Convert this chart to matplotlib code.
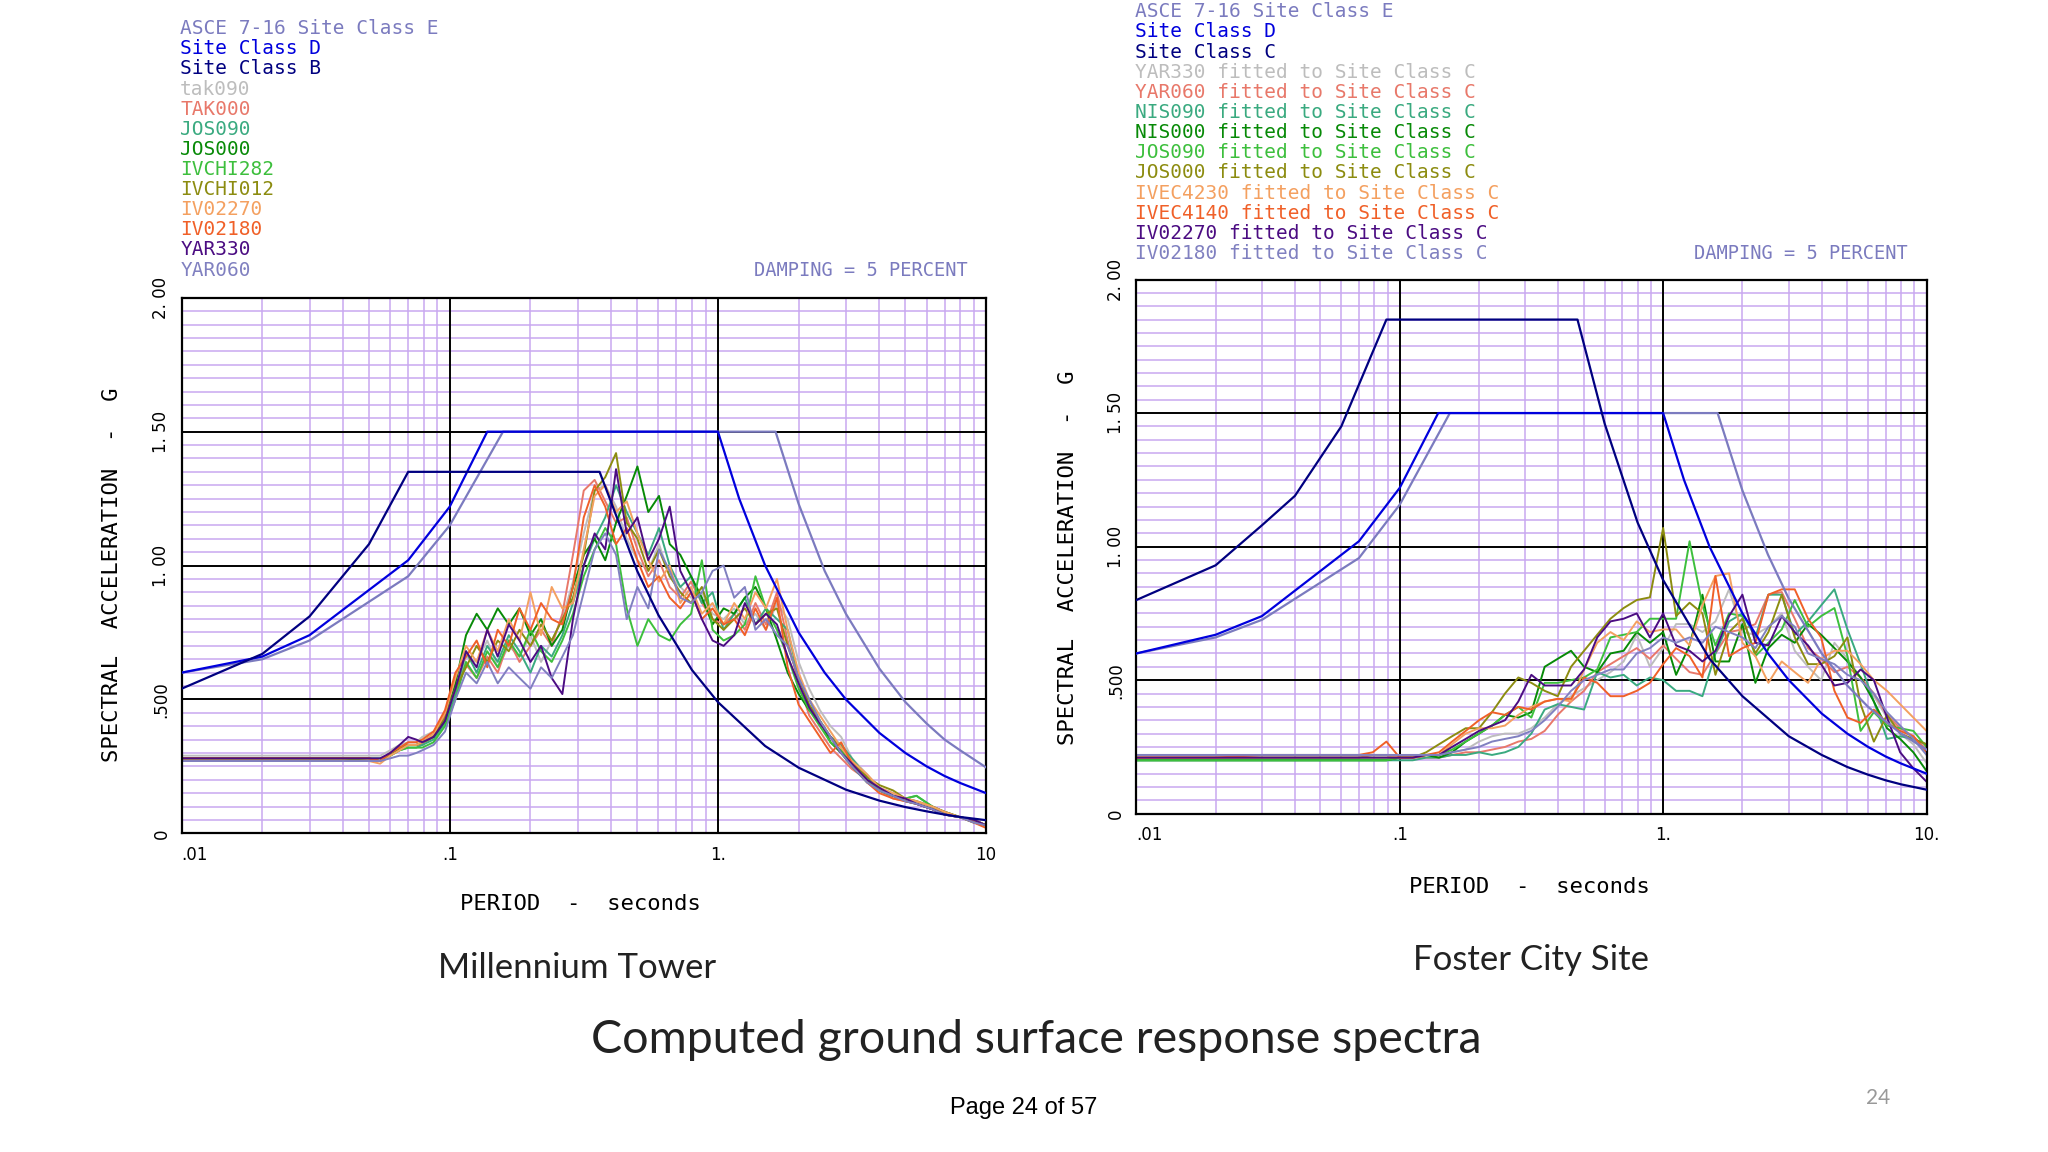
import numpy as np
import matplotlib.pyplot as plt
from matplotlib.ticker import FixedLocator, LogLocator, MultipleLocator, NullFormatter

# ---------------- tick labels ----------------
XTICKS = [0.01, 0.1, 1.0, 10.0]
XTICK_LABELS_L = ['.01', '.1', '1.', '10']
XTICK_LABELS_R = ['.01', '.1', '1.', '10.']
YTICKS = [0.0, 0.5, 1.0, 1.5, 2.0]
YTICK_LABELS = ['0', '.500', '1. 00', '1. 50', '2. 00']

# ---------------- left panel: Millennium Tower ----------------
# design spectra
L_T_E = [0.01, 0.02, 0.03, 0.07, 0.1, 0.158, 1.64, 2.0, 2.5, 3.0, 4.0, 5.0, 6.0, 7.0, 8.0, 10.0]
L_SA_E = [0.60, 0.65, 0.72, 0.96, 1.15, 1.50, 1.50, 1.23, 0.98, 0.82, 0.615, 0.49, 0.41, 0.35, 0.31, 0.246]
L_T_D = [0.01, 0.02, 0.03, 0.07, 0.1, 0.138, 1.0, 1.2, 1.5, 2.0, 2.5, 3.0, 4.0, 5.0, 6.0, 7.0, 8.0, 10.0]
L_SA_D = [0.60, 0.66, 0.74, 1.02, 1.22, 1.50, 1.50, 1.25, 1.00, 0.75, 0.60, 0.50, 0.375, 0.30, 0.25, 0.214, 0.188, 0.15]
L_T_B = [0.01, 0.02, 0.03, 0.05, 0.07, 0.362, 0.5, 0.6, 0.8, 1.0, 1.5, 2.0, 3.0, 4.0, 5.0, 6.0, 7.0, 8.0, 10.0]
L_SA_B = [0.54, 0.67, 0.81, 1.08, 1.35, 1.35, 0.98, 0.815, 0.61, 0.49, 0.326, 0.245, 0.163, 0.122, 0.098, 0.082, 0.07, 0.061, 0.049]

# record periods (s)
T_L = [0.01, 0.015, 0.02, 0.03, 0.04, 0.05, 0.055, 0.06, 0.065, 0.07,
       0.075, 0.079, 0.087, 0.096, 0.105, 0.115, 0.126, 0.138, 0.151, 0.166,
       0.182, 0.2, 0.219, 0.24, 0.263, 0.288, 0.316, 0.347, 0.38, 0.417,
       0.457, 0.501, 0.55, 0.603, 0.661, 0.724, 0.794, 0.871, 0.955, 1.05,
       1.15, 1.26, 1.38, 1.51, 1.66, 1.82, 2.0, 2.19, 2.4, 2.63,
       2.88, 3.16, 3.6, 4.0, 4.5, 5.0, 5.5, 6.3, 7.0, 8.0, 9.0, 10.0]

tak090 = [0.29, 0.29, 0.29, 0.29, 0.29, 0.29, 0.29, 0.31, 0.33, 0.34,
          0.34, 0.36, 0.38, 0.42, 0.52, 0.66, 0.64, 0.72, 0.62, 0.70,
          0.66, 0.74, 0.64, 0.72, 0.80, 0.94, 1.12, 1.28, 1.30, 1.22,
          1.10, 1.02, 0.98, 1.08, 0.96, 0.92, 0.88, 0.90, 0.82, 0.80,
          0.84, 0.78, 0.82, 0.76, 0.86, 0.80, 0.64, 0.54, 0.46, 0.40,
          0.36, 0.28, 0.22, 0.17, 0.15, 0.13, 0.12, 0.10, 0.08, 0.06, 0.05, 0.03]
TAK000 = [0.28, 0.28, 0.28, 0.28, 0.28, 0.28, 0.27, 0.30, 0.32, 0.33,
          0.33, 0.33, 0.36, 0.44, 0.55, 0.63, 0.58, 0.66, 0.60, 0.72,
          0.64, 0.70, 0.76, 0.70, 0.82, 1.04, 1.28, 1.32, 1.24, 1.16,
          1.18, 1.06, 0.96, 1.02, 0.92, 0.88, 0.94, 0.86, 0.80, 0.78,
          0.82, 0.76, 0.86, 0.78, 0.90, 0.72, 0.56, 0.44, 0.38, 0.32,
          0.28, 0.24, 0.20, 0.16, 0.13, 0.12, 0.11, 0.09, 0.08, 0.06, 0.05, 0.03]
JOS090 = [0.28, 0.28, 0.28, 0.28, 0.28, 0.28, 0.28, 0.29, 0.31, 0.32,
          0.32, 0.33, 0.35, 0.41, 0.52, 0.68, 0.60, 0.70, 0.64, 0.74,
          0.68, 0.60, 0.70, 0.66, 0.74, 0.86, 1.00, 1.10, 1.18, 1.30,
          1.20, 1.12, 1.04, 1.14, 1.00, 0.92, 0.96, 0.86, 0.90, 0.76,
          0.82, 0.88, 0.78, 0.84, 0.80, 0.76, 0.58, 0.50, 0.42, 0.36,
          0.33, 0.28, 0.21, 0.17, 0.14, 0.13, 0.14, 0.10, 0.08, 0.06, 0.05, 0.03]
JOS000 = [0.27, 0.27, 0.27, 0.27, 0.27, 0.27, 0.27, 0.29, 0.32, 0.33,
          0.33, 0.34, 0.36, 0.42, 0.56, 0.74, 0.82, 0.76, 0.84, 0.78,
          0.84, 0.74, 0.80, 0.70, 0.76, 0.92, 1.04, 1.10, 1.02, 1.16,
          1.26, 1.37, 1.20, 1.26, 1.08, 1.04, 0.96, 0.88, 0.78, 0.84,
          0.82, 0.88, 0.92, 0.84, 0.72, 0.60, 0.52, 0.46, 0.42, 0.34,
          0.30, 0.25, 0.19, 0.16, 0.14, 0.12, 0.11, 0.09, 0.07, 0.06, 0.04, 0.03]
IVCHI282 = [0.28, 0.28, 0.28, 0.28, 0.28, 0.27, 0.27, 0.29, 0.31, 0.32,
            0.32, 0.32, 0.34, 0.40, 0.50, 0.64, 0.58, 0.68, 0.62, 0.72,
            0.66, 0.76, 0.68, 0.64, 0.72, 0.82, 0.96, 1.06, 1.14, 1.08,
            0.84, 0.70, 0.80, 0.74, 0.72, 0.78, 0.82, 1.02, 0.76, 0.72,
            0.74, 0.78, 0.96, 0.84, 0.76, 0.66, 0.54, 0.46, 0.40, 0.34,
            0.31, 0.26, 0.20, 0.16, 0.14, 0.13, 0.14, 0.10, 0.08, 0.06, 0.05, 0.03]
IVCHI012 = [0.28, 0.28, 0.28, 0.28, 0.28, 0.28, 0.27, 0.30, 0.32, 0.33,
            0.33, 0.34, 0.37, 0.43, 0.54, 0.62, 0.70, 0.64, 0.72, 0.68,
            0.76, 0.70, 0.78, 0.72, 0.80, 0.88, 1.04, 1.28, 1.33, 1.42,
            1.16, 1.10, 0.98, 1.06, 0.96, 0.90, 0.86, 0.92, 0.80, 0.76,
            0.80, 0.84, 0.78, 0.82, 0.84, 0.70, 0.58, 0.48, 0.42, 0.36,
            0.32, 0.27, 0.21, 0.18, 0.16, 0.13, 0.12, 0.10, 0.08, 0.06, 0.05, 0.03]
IV02270 = [0.27, 0.27, 0.27, 0.27, 0.27, 0.27, 0.26, 0.29, 0.31, 0.33,
           0.33, 0.34, 0.37, 0.45, 0.58, 0.70, 0.64, 0.76, 0.68, 0.80,
           0.72, 0.90, 0.74, 0.92, 0.84, 0.86, 1.06, 1.26, 1.30, 1.20,
           1.24, 1.12, 1.02, 0.94, 1.00, 0.86, 0.92, 0.82, 0.86, 0.78,
           0.86, 0.80, 0.90, 0.84, 0.95, 0.76, 0.60, 0.50, 0.44, 0.38,
           0.32, 0.27, 0.22, 0.17, 0.15, 0.13, 0.12, 0.10, 0.08, 0.06, 0.05, 0.03]
IV02180 = [0.28, 0.28, 0.28, 0.28, 0.28, 0.28, 0.27, 0.30, 0.32, 0.34,
           0.34, 0.35, 0.38, 0.46, 0.60, 0.66, 0.72, 0.62, 0.76, 0.70,
           0.84, 0.76, 0.86, 0.80, 0.78, 0.92, 1.18, 1.30, 1.22, 1.08,
           1.14, 1.02, 0.92, 0.96, 0.88, 0.84, 0.90, 0.80, 0.84, 0.78,
           0.80, 0.74, 0.84, 0.76, 0.88, 0.62, 0.48, 0.42, 0.36, 0.30,
           0.34, 0.26, 0.19, 0.15, 0.13, 0.12, 0.11, 0.09, 0.07, 0.06, 0.04, 0.02]
YAR330 = [0.28, 0.28, 0.28, 0.28, 0.28, 0.28, 0.28, 0.30, 0.33, 0.36,
          0.35, 0.34, 0.36, 0.42, 0.54, 0.68, 0.62, 0.76, 0.66, 0.78,
          0.72, 0.64, 0.70, 0.58, 0.52, 0.80, 1.00, 1.12, 1.06, 1.36,
          1.12, 1.18, 1.02, 1.10, 1.22, 0.98, 0.90, 0.80, 0.72, 0.70,
          0.74, 0.86, 0.78, 0.82, 0.78, 0.66, 0.56, 0.47, 0.41, 0.36,
          0.30, 0.26, 0.20, 0.17, 0.14, 0.13, 0.11, 0.09, 0.07, 0.06, 0.05, 0.03]
YAR060 = [0.27, 0.27, 0.27, 0.27, 0.27, 0.27, 0.27, 0.28, 0.29, 0.29,
          0.30, 0.31, 0.33, 0.38, 0.50, 0.60, 0.56, 0.64, 0.56, 0.62,
          0.58, 0.54, 0.62, 0.58, 0.66, 0.74, 0.90, 1.06, 1.12, 1.04,
          0.80, 0.92, 0.84, 1.06, 0.98, 0.88, 0.86, 0.90, 0.98, 1.00,
          0.88, 0.92, 0.76, 0.80, 0.74, 0.70, 0.58, 0.50, 0.42, 0.36,
          0.30, 0.25, 0.19, 0.16, 0.14, 0.12, 0.11, 0.09, 0.07, 0.06, 0.04, 0.03]

# ---------------- right panel: Foster City Site ----------------
R_T_E = [0.01, 0.02, 0.03, 0.07, 0.1, 0.155, 1.61, 2.0, 2.5, 3.0, 4.0, 5.0, 6.0, 7.0, 8.0, 10.0]
R_SA_E = [0.60, 0.66, 0.726, 0.957, 1.157, 1.50, 1.50, 1.21, 0.97, 0.805, 0.60, 0.48, 0.40, 0.345, 0.30, 0.24]
R_T_D = [0.01, 0.02, 0.03, 0.07, 0.1, 0.14, 1.0, 1.2, 1.5, 2.0, 2.5, 3.0, 4.0, 5.0, 6.0, 7.0, 8.0, 10.0]
R_SA_D = [0.60, 0.67, 0.74, 1.02, 1.22, 1.50, 1.50, 1.25, 1.00, 0.75, 0.60, 0.50, 0.375, 0.30, 0.25, 0.214, 0.188, 0.15]
R_T_C = [0.01, 0.02, 0.03, 0.04, 0.06, 0.089, 0.473, 0.6, 0.8, 1.0, 1.5, 2.0, 3.0, 4.0, 5.0, 6.0, 7.0, 8.0, 10.0]
R_SA_C = [0.80, 0.93, 1.08, 1.19, 1.45, 1.85, 1.85, 1.46, 1.09, 0.875, 0.58, 0.44, 0.29, 0.22, 0.175, 0.146, 0.125, 0.11, 0.09]

T_R = [0.01, 0.02, 0.03, 0.05, 0.07, 0.079, 0.089, 0.1, 0.112, 0.126,
       0.141, 0.158, 0.178, 0.2, 0.224, 0.251, 0.282, 0.316, 0.355, 0.398,
       0.447, 0.501, 0.562, 0.631, 0.708, 0.794, 0.891, 1.0, 1.12, 1.26,
       1.41, 1.58, 1.78, 2.0, 2.24, 2.51, 2.82, 3.16, 3.55, 3.98,
       4.47, 5.01, 5.62, 6.31, 7.08, 7.94, 8.91, 10.0]

f_YAR330 = [0.22, 0.22, 0.22, 0.22, 0.22, 0.22, 0.22, 0.22, 0.22, 0.22,
            0.22, 0.23, 0.24, 0.27, 0.29, 0.30, 0.30, 0.32, 0.36, 0.41,
            0.44, 0.47, 0.50, 0.53, 0.57, 0.67, 0.55, 0.62, 0.71, 0.71,
            0.68, 0.72, 0.84, 0.68, 0.67, 0.70, 0.75, 0.61, 0.55, 0.50,
            0.64, 0.58, 0.51, 0.44, 0.36, 0.30, 0.26, 0.19]
f_YAR060 = [0.21, 0.21, 0.21, 0.21, 0.21, 0.22, 0.22, 0.21, 0.21, 0.21,
            0.21, 0.22, 0.23, 0.23, 0.24, 0.25, 0.27, 0.28, 0.31, 0.37,
            0.42, 0.46, 0.53, 0.56, 0.59, 0.62, 0.58, 0.63, 0.58, 0.53,
            0.52, 0.60, 0.68, 0.69, 0.71, 0.82, 0.83, 0.73, 0.62, 0.58,
            0.53, 0.55, 0.51, 0.45, 0.37, 0.32, 0.29, 0.24]
f_NIS090 = [0.20, 0.20, 0.20, 0.20, 0.20, 0.20, 0.20, 0.20, 0.20, 0.21,
            0.21, 0.22, 0.22, 0.23, 0.22, 0.23, 0.25, 0.30, 0.39, 0.41,
            0.40, 0.39, 0.53, 0.51, 0.52, 0.48, 0.51, 0.50, 0.46, 0.46,
            0.44, 0.60, 0.72, 0.75, 0.66, 0.82, 0.82, 0.67, 0.72, 0.78,
            0.84, 0.69, 0.56, 0.42, 0.28, 0.29, 0.28, 0.26]
f_NIS000 = [0.20, 0.20, 0.20, 0.20, 0.20, 0.20, 0.20, 0.21, 0.21, 0.22,
            0.21, 0.23, 0.27, 0.30, 0.33, 0.37, 0.36, 0.38, 0.55, 0.58,
            0.61, 0.55, 0.53, 0.60, 0.61, 0.68, 0.64, 0.68, 0.52, 0.63,
            0.82, 0.57, 0.57, 0.71, 0.49, 0.62, 0.67, 0.64, 0.71, 0.67,
            0.62, 0.57, 0.51, 0.42, 0.32, 0.28, 0.23, 0.16]
f_JOS090 = [0.20, 0.20, 0.20, 0.20, 0.20, 0.20, 0.20, 0.21, 0.21, 0.22,
            0.22, 0.24, 0.27, 0.30, 0.33, 0.37, 0.40, 0.36, 0.49, 0.49,
            0.50, 0.51, 0.54, 0.66, 0.67, 0.68, 0.73, 0.73, 0.73, 1.02,
            0.78, 0.63, 0.75, 0.74, 0.59, 0.64, 0.69, 0.80, 0.70, 0.74,
            0.77, 0.59, 0.31, 0.38, 0.33, 0.32, 0.31, 0.25]
f_JOS000 = [0.21, 0.21, 0.21, 0.21, 0.21, 0.21, 0.21, 0.21, 0.21, 0.23,
            0.26, 0.29, 0.32, 0.32, 0.38, 0.45, 0.51, 0.49, 0.46, 0.44,
            0.55, 0.61, 0.67, 0.73, 0.77, 0.80, 0.81, 1.07, 0.74, 0.79,
            0.75, 0.52, 0.68, 0.73, 0.60, 0.68, 0.82, 0.66, 0.56, 0.56,
            0.59, 0.66, 0.41, 0.27, 0.37, 0.30, 0.28, 0.26]
f_IVEC4230 = [0.21, 0.21, 0.22, 0.22, 0.22, 0.22, 0.22, 0.21, 0.21, 0.22,
              0.22, 0.26, 0.30, 0.32, 0.32, 0.33, 0.37, 0.40, 0.42, 0.43,
              0.42, 0.54, 0.64, 0.68, 0.65, 0.72, 0.68, 0.69, 0.69, 0.63,
              0.78, 0.89, 0.90, 0.64, 0.59, 0.49, 0.57, 0.53, 0.49, 0.58,
              0.61, 0.61, 0.56, 0.50, 0.46, 0.41, 0.36, 0.31]
f_IVEC4140 = [0.21, 0.21, 0.22, 0.22, 0.22, 0.23, 0.27, 0.21, 0.21, 0.22,
              0.23, 0.27, 0.31, 0.35, 0.38, 0.37, 0.40, 0.39, 0.42, 0.43,
              0.43, 0.51, 0.49, 0.44, 0.44, 0.46, 0.49, 0.56, 0.62, 0.59,
              0.51, 0.89, 0.59, 0.62, 0.64, 0.82, 0.84, 0.84, 0.73, 0.66,
              0.46, 0.36, 0.34, 0.39, 0.34, 0.31, 0.29, 0.23]
f_IV02270 = [0.21, 0.21, 0.21, 0.21, 0.21, 0.21, 0.21, 0.21, 0.21, 0.22,
             0.22, 0.25, 0.28, 0.31, 0.33, 0.35, 0.42, 0.52, 0.48, 0.48,
             0.48, 0.54, 0.66, 0.72, 0.73, 0.75, 0.66, 0.75, 0.63, 0.61,
             0.57, 0.61, 0.74, 0.82, 0.64, 0.63, 0.74, 0.68, 0.63, 0.56,
             0.48, 0.49, 0.54, 0.50, 0.36, 0.23, 0.17, 0.12]
f_IV02180 = [0.22, 0.22, 0.22, 0.22, 0.22, 0.22, 0.22, 0.22, 0.22, 0.22,
             0.22, 0.23, 0.24, 0.25, 0.27, 0.28, 0.29, 0.31, 0.35, 0.40,
             0.46, 0.50, 0.52, 0.54, 0.54, 0.60, 0.62, 0.66, 0.64, 0.66,
             0.64, 0.70, 0.68, 0.66, 0.62, 0.70, 0.74, 0.70, 0.60, 0.58,
             0.56, 0.52, 0.50, 0.45, 0.38, 0.33, 0.28, 0.22]

# ---------------- colours ----------------
C_E = '#7b7bbf'
C_D = '#0000dd'
C_B = '#000080'
REC_COLORS = ['#bdbdbd', '#e8786a', '#3aaa80', '#078a07', '#3dbf3d',
              '#8c8c10', '#f4a060', '#f06028', '#4b0c82', '#8080c0']
GRID_PURPLE = '#c9a8f0'
MONO = 'DejaVu Sans Mono'

LEFT_RECORDS = [tak090, TAK000, JOS090, JOS000, IVCHI282,
                IVCHI012, IV02270, IV02180, YAR330, YAR060]
LEFT_NAMES = ['ASCE 7-16 Site Class E', 'Site Class D', 'Site Class B',
              'tak090', 'TAK000', 'JOS090', 'JOS000', 'IVCHI282',
              'IVCHI012', 'IV02270', 'IV02180', 'YAR330', 'YAR060']
RIGHT_RECORDS = [f_YAR330, f_YAR060, f_NIS090, f_NIS000, f_JOS090,
                 f_JOS000, f_IVEC4230, f_IVEC4140, f_IV02270, f_IV02180]
RIGHT_NAMES = ['ASCE 7-16 Site Class E', 'Site Class D', 'Site Class C'] + [
    s + ' fitted to Site Class C' for s in
    ['YAR330', 'YAR060', 'NIS090', 'NIS000', 'JOS090', 'JOS000',
     'IVEC4230', 'IVEC4140', 'IV02270', 'IV02180']]
NAME_COLORS = [C_E, C_D, C_B] + REC_COLORS


def sx(x):
    return x / 1568


def sy(y):
    return 1 - y / 882


def setup_axes(ax, xlabels):
    ax.set_xscale('log')
    ax.set_xlim(0.01, 10)
    ax.set_ylim(0, 2)
    ax.xaxis.set_major_locator(FixedLocator(XTICKS))
    ax.xaxis.set_minor_locator(LogLocator(base=10, subs=np.arange(2, 10), numticks=20))
    ax.xaxis.set_minor_formatter(NullFormatter())
    ax.set_xticklabels(xlabels, family='DejaVu Sans', fontsize=12)
    ax.get_xticklabels()[0].set_ha('left')
    ax.yaxis.set_major_locator(FixedLocator(YTICKS))
    ax.yaxis.set_minor_locator(MultipleLocator(0.05))
    ax.set_yticklabels(YTICK_LABELS, rotation=90, va='center', family='DejaVu Sans', fontsize=12)
    ax.grid(which='minor', color=GRID_PURPLE, lw=1.1, zorder=0.5)
    # black major grid drawn above the purple one
    for t in XTICKS[1:-1]:
        ax.axvline(t, color='black', lw=1.4, zorder=1)
    for v in YTICKS[1:-1]:
        ax.axhline(v, color='black', lw=1.4, zorder=1)
    ax.tick_params(which='both', length=0)
    ax.tick_params(axis='x', pad=9)
    ax.tick_params(axis='y', pad=8)
    for s in ax.spines.values():
        s.set_linewidth(1.6)
    ax.set_axisbelow(True)


fig = plt.figure(figsize=(20.48, 11.52), dpi=100)
fig.patch.set_facecolor('white')

axL = fig.add_axes([139 / 1568, 1 - 638 / 882, 616 / 1568, 410 / 882])
axR = fig.add_axes([870 / 1568, 1 - 623 / 882, 605 / 1568, 409 / 882])
setup_axes(axL, XTICK_LABELS_L)
setup_axes(axR, XTICK_LABELS_R)

for vals, col in zip(LEFT_RECORDS, REC_COLORS):
    axL.plot(T_L, vals, color=col, lw=1.4, zorder=2)
axL.plot(L_T_E, L_SA_E, color=C_E, lw=1.6, zorder=3)
axL.plot(L_T_D, L_SA_D, color=C_D, lw=1.6, zorder=3)
axL.plot(L_T_B, L_SA_B, color=C_B, lw=1.6, zorder=3)

for vals, col in zip(RIGHT_RECORDS, REC_COLORS):
    axR.plot(T_R, vals, color=col, lw=1.4, zorder=2)
axR.plot(R_T_E, R_SA_E, color=C_E, lw=1.6, zorder=3)
axR.plot(R_T_D, R_SA_D, color=C_D, lw=1.6, zorder=3)
axR.plot(R_T_C, R_SA_C, color=C_B, lw=1.6, zorder=3)

# legends as coloured text lines
for i, (name, col) in enumerate(zip(LEFT_NAMES, NAME_COLORS)):
    fig.text(sx(138), sy(22 + 15.4 * i), name, color=col, family=MONO,
             fontsize=14, ha='left', va='center')
for i, (name, col) in enumerate(zip(RIGHT_NAMES, NAME_COLORS)):
    fig.text(sx(869), sy(9 + 15.42 * i), name, color=col, family=MONO,
             fontsize=14, ha='left', va='center')

fig.text(sx(741), sy(207), 'DAMPING = 5 PERCENT', color=C_E, family=MONO,
         fontsize=13.5, ha='right', va='center')
fig.text(sx(1461), sy(194), 'DAMPING = 5 PERCENT', color=C_E, family=MONO,
         fontsize=13.5, ha='right', va='center')

fig.text(sx(86), sy(440), 'SPECTRAL  ACCELERATION  -  G', family=MONO,
         fontsize=16, rotation=90, ha='center', va='center')
fig.text(sx(818), sy(427), 'SPECTRAL  ACCELERATION  -  G', family=MONO,
         fontsize=16, rotation=90, ha='center', va='center')
fig.text(sx(444), sy(692), 'PERIOD  -  seconds', family=MONO,
         fontsize=16, ha='center', va='center')
fig.text(sx(1171), sy(679), 'PERIOD  -  seconds', family=MONO,
         fontsize=16, ha='center', va='center')

# slide captions
fig.text(sx(442), sy(741), 'Millennium Tower', family='Lato', fontsize=25,
         ha='center', va='center', color='#222222')
fig.text(sx(1172), sy(735), 'Foster City Site', family='Lato', fontsize=25,
         ha='center', va='center', color='#222222')
fig.text(sx(793), sy(796), 'Computed ground surface response spectra', family='Lato',
         fontsize=33.5, ha='center', va='center', color='#222222')
fig.text(sx(784), sy(848), 'Page 24 of 57', family='Liberation Sans', fontsize=17,
         ha='center', va='center', color='black')
fig.text(sx(1438), sy(841), '24', family='Lato', fontsize=15,
         ha='center', va='center', color='#999999')

fig.savefig('out.png', dpi=100, facecolor='white')
